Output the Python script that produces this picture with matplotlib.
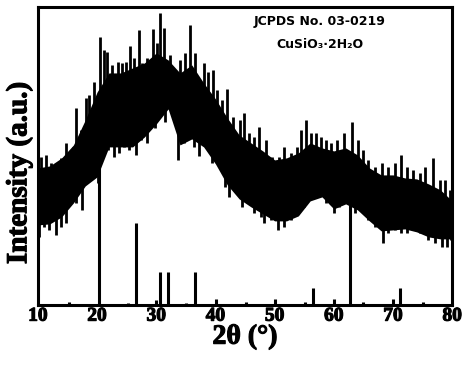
import numpy as np
import matplotlib
matplotlib.use("Agg")
import matplotlib.pyplot as plt
import matplotlib.patheffects as pe

# measured XRD trace (intensity in a.u., read off the picture)
# dense core of the noisy band
angle = [10, 12, 14, 16, 18, 20, 22, 24, 26, 28, 30, 32, 34, 36, 38, 40, 42, 44,
         46, 48, 50, 52, 54, 56, 58, 60, 62, 64, 66, 68, 70, 72, 74, 76, 78, 80]
core_top = [137, 139, 147, 160, 185, 213, 232, 232, 237, 242, 252, 245, 232, 240,
            222, 206, 187, 170, 162, 154, 145, 147, 152, 162, 157, 154, 157, 150,
            137, 130, 130, 127, 126, 121, 115, 104]
core_bottom = [80, 81, 88, 102, 119, 128, 158, 158, 158, 168, 181, 196, 160, 166,
               158, 141, 120, 106, 98, 91, 84, 84, 89, 104, 108, 96, 101, 95,
               84, 74, 75, 76, 73, 68, 66, 66]

# noise spikes: upper tips
up_x = [10.5, 11.35, 12.2, 13.3, 13.9, 14.7, 15.9, 16.5, 17.3, 18.1, 18.7, 19.5,
        20.5, 21.2, 21.6, 22.6, 23.5, 24.2, 24.9, 25.6, 26.3, 27.0, 27.6, 28.4,
        29.5, 30.1, 30.7, 31.3, 32.3, 34.0, 34.9, 35.7, 36.5, 38.0, 38.8, 39.5,
        40.3, 41.1, 42.0, 43.0, 44.2, 44.8, 45.7, 46.5, 47.4, 48.5, 49.6, 50.8,
        51.6, 52.7, 53.8, 54.4, 55.3, 56.1, 57.0, 57.8, 58.7, 59.5, 60.6, 61.7,
        63.0, 64.1, 65.0, 65.8, 66.9, 68.1, 69.2, 70.3, 71.4, 72.3, 73.4, 74.5,
        75.4, 76.8, 77.9, 78.8, 79.6]
up_y = [148, 150, 142, 135, 147, 162, 158, 197, 175, 207, 210, 223,
        268, 255, 253, 240, 243, 242, 243, 259, 247, 275, 242, 247,
        276, 262, 292, 277, 250, 245, 252, 280, 252, 242, 233, 235,
        215, 205, 216, 188, 185, 192, 172, 168, 178, 165, 148, 148,
        158, 152, 158, 175, 185, 172, 172, 168, 165, 162, 165, 172,
        183, 165, 155, 145, 138, 142, 138, 142, 150, 138, 135, 132,
        138, 147, 125, 125, 115]

# noise spikes: lower tips
dn_x = [10.2, 11.1, 11.9, 13.0, 13.9, 14.7, 15.6, 16.4, 17.4, 18.4, 19.0, 20.1,
        21.8, 22.9, 23.7, 24.6, 25.4, 26.6, 27.4, 27.8, 28.4, 29.8, 31.5, 32.3,
        33.6, 34.6, 36.3, 37.3, 38.5, 39.4, 40.8, 41.6, 42.3, 43.6, 44.4, 45.3,
        46.5, 47.7, 48.2, 49.3, 50.5, 51.6, 52.7, 53.8, 55.0, 56.1, 57.5, 58.7,
        59.6, 60.1, 60.9, 61.7, 63.6, 64.7, 65.8, 66.9, 68.3, 69.2, 70.3, 71.4,
        72.3, 73.4, 74.5, 75.9, 77.1, 78.2, 79.1, 79.8]
dn_y = [68, 78, 75, 70, 78, 82, 105, 102, 95, 128, 125, 122,
        155, 148, 152, 158, 155, 150, 165, 172, 162, 177, 183, 205,
        145, 162, 158, 149, 162, 142, 138, 118, 108, 118, 98, 105,
        92, 88, 82, 85, 75, 78, 85, 92, 98, 108, 118, 102,
        112, 92, 98, 105, 92, 98, 85, 78, 62, 72, 75, 72,
        72, 75, 72, 65, 62, 58, 58, 65]

# JCPDS No. 03-0219 reference lines
ref_angle = [15.2, 20.3, 25.2, 26.5, 30.0, 30.6, 32.0, 35.1, 36.6, 40.1, 45.1,
             50.1, 55.1, 56.4, 60.0, 62.8, 65.0, 70.0, 71.2, 75.0]
ref_height = [3, 150, 2, 82, 5, 33, 33, 2, 33, 6, 3,
              6, 3, 17, 6, 150, 3, 6, 17, 3]

fig = plt.figure(figsize=(4.74, 3.66), dpi=100)
ax = fig.add_axes([0.080, 0.167, 0.874, 0.814])

ax.fill_between(angle, core_bottom, core_top, color="black", lw=0)
mid = (np.array(core_top) + np.array(core_bottom)) / 2
ax.vlines(up_x, np.interp(up_x, angle, mid), up_y, color="black", lw=2.0)
ax.vlines(dn_x, dn_y, np.interp(dn_x, angle, mid), color="black", lw=2.0)

ax.vlines(ref_angle, 0, ref_height, color="black", lw=2.2)

heavy = [pe.withStroke(linewidth=0.8, foreground="black")]

ax.set_xlim(10, 80)
ax.set_ylim(0, 298)
ax.set_xticks(range(10, 81, 10))
ax.set_yticks([])
ax.tick_params(axis="x", length=0, pad=2)
for lab in ax.get_xticklabels():
    lab.set_fontfamily("Liberation Serif")
    lab.set_fontweight("bold")
    lab.set_fontsize(14)
    lab.set_path_effects(heavy)
for sp in ax.spines.values():
    sp.set_linewidth(2.2)

ax.set_xlabel("2θ (°)", family="Liberation Serif", weight="bold", fontsize=20,
              labelpad=0, path_effects=heavy)
fig.text(0.040, 0.527, "Intensity (a.u.)", family="Liberation Serif", weight="bold",
         fontsize=21, rotation=90, ha="center", va="center", path_effects=heavy)

ax.text(0.68, 0.95, "JCPDS No. 03-0219", transform=ax.transAxes, ha="center",
        va="center", fontsize=9, weight="bold", family="DejaVu Sans")
ax.text(0.68, 0.875, "CuSiO₃·2H₂O", transform=ax.transAxes, ha="center",
        va="center", fontsize=9, weight="bold", family="DejaVu Sans")

fig.savefig("out.png", dpi=100)
